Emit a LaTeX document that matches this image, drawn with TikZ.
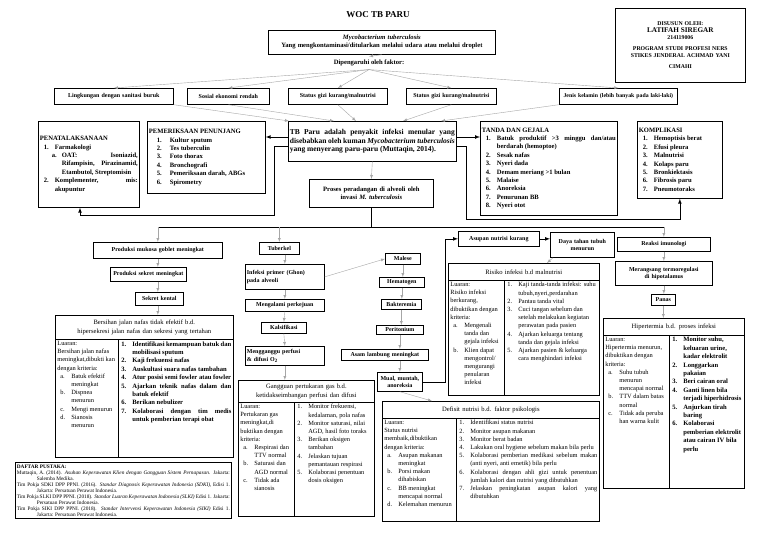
\documentclass[tikz,border=0pt]{standalone}
\usepackage{fontspec}
\setmainfont{Liberation Serif}
\usetikzlibrary{arrows}
\setlength{\parindent}{0pt}
\hyphenpenalty=10000
\exhyphenpenalty=10000
\tolerance=10000
\newcommand{\itemline}[4]{\par\hangindent=\dimexpr#1+#2\relax\hangafter=1\hspace*{#1}\makebox[#2][l]{#3}#4\par}
\newcommand{\nitem}[2]{\itemline{4pt}{11pt}{#1}{#2}}
\newcommand{\aitem}[2]{\itemline{3pt}{11pt}{#1}{#2}}
\newcommand{\titem}[2]{\itemline{1pt}{11pt}{#1}{#2}}
\newcommand{\refitem}[1]{\par\hangindent=20pt\hangafter=1 #1\par}
\newcommand{\tcell}[3]{\parbox[t][#2][t]{#1}{#3}}

\tikzset{
  box/.style={draw, line width=0.7pt, anchor=north west, inner sep=1.5pt,
    font=\fontsize{6.6}{8.2}\selectfont},
  flow/.style={box, align=center, font=\fontsize{6}{7.4}\selectfont\bfseries},
  info/.style={box, align=justify, font=\fontsize{6.6}{8.4}\selectfont\bfseries},
  tab/.style={box, inner sep=2pt, font=\fontsize{6.4}{8.2}\selectfont},
  link/.style={->, >=latex, line width=0.7pt},
  faint/.style={->, >=latex, draw=gray!70, line width=0.4pt},
}

\begin{document}
\begin{tikzpicture}[x=1pt, y=-1pt]
\useasboundingbox[fill=white] (0,0) rectangle (768,543);

% judul dan penyebab
\node[font=\fontsize{9}{10}\selectfont\bfseries] (judul) at (378,15) {WOC TB PARU};
\node[flow, text width=224pt, minimum height=24pt, font=\fontsize{6.6}{8}\selectfont\bfseries] (myco) at (268,30)
  {\textit{Mycobacterium tuberculosis}\\Yang mengkontaminasi/ditularkan melalui udara atau melalui droplet};
\node[font=\fontsize{6.6}{8}\selectfont\bfseries] (dipeng) at (369,63) {Dipengaruhi oleh faktor:};
\draw[faint] (myco.south) -- (dipeng.north);

% faktor
\node[flow, text width=116pt, minimum height=16pt] (f1) at (54,88) {Lingkungan dengan sanitasi buruk};
\node[flow, text width=79pt, minimum height=16pt] (f2) at (187,88) {Sosial ekonomi rendah};
\node[flow, text width=96pt, minimum height=16pt] (f3) at (288,88) {Status gizi kurang/malnutrisi};
\node[flow, text width=87pt, minimum height=16pt] (f4) at (406,88) {Status gizi kurang/malnutrisi};
\node[flow, text width=115pt, minimum height=16pt, font=\fontsize{5.8}{7}\selectfont\bfseries] (f5) at (559,88) {Jenis kelamin (lebih banyak pada laki-laki)};
\draw[faint] (dipeng.south) -- (f1.north);
\draw[faint] (dipeng.south) -- (f2.north);
\draw[faint] (dipeng.south) -- (f3.north);
\draw[faint] (dipeng.south) -- (f4.north);
\draw[faint] (dipeng.south) -- (f5.north);

% penyusun
\node[box, align=center, text width=127pt, minimum height=74pt, font=\fontsize{5.8}{7}\selectfont\bfseries] (susun) at (615,8)
  {DISUSUN OLEH:\\{\fontsize{7.2}{8}\selectfont LATIFAH SIREGAR}\\214119006\\[4pt]
   PROGRAM STUDI PROFESI NERS\\STIKES JENDERAL ACHMAD YANI\\[4pt]CIMAHI};

% definisi
\node[info, text width=165pt, minimum height=40pt, font=\fontsize{7.5}{8.4}\selectfont\bfseries] (tb) at (288,121)
  {TB Paru adalah penyakit infeksi menular yang disebabkan oleh kuman \textit{Mycobacterium tuberculosis} yang menyerang paru-paru (Muttaqin, 2014).};
\draw[faint] (f1.south east) -- ([xshift=1pt]tb.north west);
\draw[faint] (f2.south) -- ([xshift=46pt]tb.north west);
\draw[faint] (f3.south) -- ([xshift=68pt]tb.north west);
\draw[faint] (f4.south) -- ([xshift=115pt]tb.north west);
\draw[faint] (f5.south west) -- ([xshift=153pt]tb.north west);

\node[info, text width=98pt, minimum height=86pt] (pen) at (38,121)
  {PENATALAKSANAAN
   \nitem{1.}{Farmakologi}
   \itemline{12pt}{10pt}{a.}{OAT: Isoniazid, Rifampisin, Pirazinamid, Etambutol, Streptomisin}
   \nitem{2.}{Komplementer, mis: akupuntur}};
\node[info, text width=115pt, minimum height=72pt] (pem) at (147,121)
  {PEMERIKSAAN PENUNJANG
   \itemline{8pt}{13pt}{1.}{Kultur sputum}
   \itemline{8pt}{13pt}{2.}{Tes tuberculin}
   \itemline{8pt}{13pt}{3.}{Foto thorax}
   \itemline{8pt}{13pt}{4.}{Bronchografi}
   \itemline{8pt}{13pt}{5.}{Pemeriksaan darah, ABGs}
   \itemline{8pt}{13pt}{6.}{Spirometry}};
\node[info, text width=134pt, minimum height=94pt] (tanda) at (480,121)
  {TANDA DAN GEJALA
   \nitem{1.}{Batuk produktif >3 minggu dan/atau berdarah (hemoptoe)}
   \nitem{2.}{Sesak nafas}
   \nitem{3.}{Nyeri dada}
   \nitem{4.}{Demam meriang >1 bulan}
   \nitem{5.}{Malaise}
   \nitem{6.}{Anoreksia}
   \nitem{7.}{Penurunan BB}
   \nitem{8.}{Nyeri otot}};
\node[info, text width=82pt, minimum height=77pt] (komp) at (637,121)
  {KOMPLIKASI
   \nitem{1.}{Hemoptisis berat}
   \nitem{2.}{Efusi pleura}
   \nitem{3.}{Malnutrisi}
   \nitem{4.}{Kolaps paru}
   \nitem{5.}{Bronkiektasis}
   \nitem{6.}{Fibrosis paru}
   \nitem{7.}{Pneumotoraks}};

\coordinate (kiri) at (274,215);
\coordinate (kanan) at (466,219);
\draw[link] ([yshift=-16pt]tb.north west) -- ([yshift=-16pt]pem.north east);
\draw[link] ([yshift=-25pt]tb.north west) -| (kiri) -| ([xshift=42pt]pen.south west);
\draw[link] ([yshift=-16pt]tb.north east) -- ([yshift=-16pt]tanda.north west);
\draw[link] ([yshift=-25pt]tb.north east) -| (kanan) -| (komp.south);

\node[flow, text width=121pt, minimum height=28pt, font=\fontsize{6.6}{8.4}\selectfont\bfseries] (proses) at (309,179)
  {Proses peradangan di alveoli oleh\\invasi \textit{M. tuberculosis}};
\draw[faint] (tb.south) -- (proses.north);

% cabang utama
\coordinate (cabang) at (366,227);
\node[flow, text width=126pt, minimum height=16pt] (prodmuk) at (93,242) {Produksi mukosa goblet meningkat};
\node[flow, text width=37pt, minimum height=12pt] (tuberkel) at (259,242) {Tuberkel};
\node[flow, text width=90pt, minimum height=14pt] (reaksi) at (617,237) {Reaksi imunologi};
\draw[line width=0.7pt] (proses.south) -- (proses.south |- cabang);
\draw[line width=0.7pt] (prodmuk.north |- cabang) -- (reaksi.north |- cabang);
\draw[faint] (prodmuk.north |- cabang) -- (prodmuk.north);
\draw[faint] (tuberkel.north |- cabang) -- (tuberkel.north);
\draw[faint] (reaksi.north |- cabang) -- (reaksi.north);

% jalur bersihan jalan nafas
\node[flow, text width=73pt, minimum height=14pt] (prodsek) at (110,267) {Produksi sekret meningkat};
\node[flow, text width=45pt, minimum height=13pt] (sekret) at (135,292) {Sekret kental};
\node[box, align=center, text width=175pt, minimum height=24pt] (bersihan) at (55,315)
  {Bersihan jalan nafas tidak efektif b.d. hipersekresi jalan nafas dan sekresi yang tertahan};
\node[tab] (bersL) at (55,339) {\tcell{59pt}{114pt}{\raggedright Luaran:\\Bersihan jalan nafas meningkat,dibukti kan dengan kriteria:
   \aitem{a.}{Batuk efektif meningkat}\aitem{b.}{Dispnea menurun}\aitem{c.}{Mengi menurun}\aitem{d.}{Sianosis menurun}}};
\node[tab, font=\fontsize{6.6}{8.4}\selectfont\bfseries] (bersI) at (118,339) {\tcell{111pt}{114pt}{%
   \titem{1.}{Identifikasi kemampuan batuk dan mobilisasi sputum}\titem{2.}{Kaji frekuensi nafas}
   \titem{3.}{Auskultasi suara nafas tambahan}\titem{4.}{Atur posisi semi fowler atau fowler}
   \titem{5.}{Ajarkan teknik nafas dalam dan batuk efektif}\titem{6.}{Berikan nebulizer}
   \titem{7.}{Kolaborasi dengan tim medis untuk pemberian terapi obat}}};
\draw[faint] (prodmuk.south) -- (prodmuk.south |- prodsek.north);
\draw[faint] (prodmuk.south |- prodsek.south) -- (prodmuk.south |- sekret.north);
\draw[faint] (prodmuk.south |- sekret.south) -- (prodmuk.south |- bersihan.north);

% jalur pertukaran gas
\node[flow, align=left, text width=76pt, minimum height=25pt] (infeksi) at (245,264) {Infeksi primer (Ghon)\\pada alveoli};
\node[flow, text width=76pt, minimum height=12pt] (perkejuan) at (245,299) {Mengalami perkejuan};
\node[flow, text width=42pt, minimum height=11pt] (kalsi) at (261,322) {Kalsifikasi};
\node[flow, align=left, text width=76pt, minimum height=19pt] (perfusi) at (245,346) {Mengganggu perfusi\\\& difusi O\textsubscript{2}};
\node[box, align=center, text width=133pt, minimum height=22pt] (gas) at (238,380)
  {Gangguan pertukaran gas b.d.\\ketidakseimbangan perfusi dan difusi};
\node[tab] (gasL) at (238,402) {\tcell{52pt}{110pt}{\raggedright Luaran:\\Pertukaran gas meningkat,di buktikan dengan kriteria:
   \aitem{a.}{Respirasi dan TTV normal}\aitem{b.}{Saturasi dan AGD normal}\aitem{c.}{Tidak ada sianosis}}};
\node[tab] (gasI) at (294,402) {\tcell{76pt}{110pt}{\raggedright
   \titem{1.}{Monitor frekuensi, kedalaman, pola nafas}\titem{2.}{Monitor saturasi, nilai AGD, hasil foto toraks}
   \titem{3.}{Berikan oksigen tambahan}\titem{4.}{Jelaskan tujuan pemantauan respirasi}
   \titem{5.}{Kolaborasi penentuan dosis oksigen}}};
\draw[faint] (infeksi.north |- tuberkel.south) -- (infeksi.north);
\draw[faint] (infeksi.south) -- (perkejuan.north);
\draw[faint] (perkejuan.south) -- (kalsi.north);
\draw[faint] (kalsi.south) -- (perfusi.north);
\draw[faint] (perfusi.south) -- (perfusi.south |- gas.north);

% jalur nutrisi
\node[flow, text width=32pt, minimum height=11pt] (malese) at (385,253) {Malese};
\node[flow, text width=42pt, minimum height=10pt] (hemato) at (379,277) {Hematogen};
\node[flow, text width=37pt, minimum height=10pt] (bakter) at (381,299) {Bakteremia};
\node[flow, text width=44pt, minimum height=9pt] (perit) at (376,325) {Peritonium};
\node[flow, text width=84pt, minimum height=11pt] (asam) at (341,349) {Asam lambung meningkat};
\node[flow, text width=42pt, minimum height=19pt] (mual) at (377,372) {Mual, muntah,\\anoreksia};
\draw[faint] (infeksi.east) -- (malese.west);
\draw[faint] (malese.south) -- (malese.south |- hemato.north);
\draw[faint] (hemato.south) -- (hemato.south |- bakter.north);
\draw[faint] (bakter.south) -- (bakter.south |- perit.north);
\draw[faint] (perit.south) -- (perit.south |- asam.north);
\draw[faint] (perit.south |- asam.south) -- (perit.south |- mual.north);

\node[flow, text width=78pt, minimum height=15pt] (asupan) at (458,231) {Asupan nutrisi kurang};
\node[flow, text width=61pt, minimum height=25pt] (daya) at (550,232) {Daya tahan tubuh\\menurun};
\draw[link] (mual.east) -- ++(23,0) |- (asupan.west);
\draw[link] (asupan.east) -- (asupan.east -| daya.west);

\node[box, align=center, text width=148pt, minimum height=17pt] (risiko) at (448,263) {Risiko infeksi b.d malnutrisi};
\node[tab] (risL) at (448,280) {\tcell{52pt}{111pt}{\raggedright Luaran:\\Risiko infeksi berkurang, dibuktikan dengan kriteria:
   \aitem{a.}{Mengenali tanda dan gejala infeksi}\aitem{b.}{Klien dapat mengontrol/ mengurangi penularan infeksi}}};
\node[tab] (risI) at (504,280) {\tcell{91pt}{111pt}{\raggedright
   \titem{1.}{Kaji tanda-tanda infeksi: suhu tubuh,nyeri,perdarahan}\titem{2.}{Pantau tanda vital}
   \titem{3.}{Cuci tangan sebelum dan setelah melakukan kegiatan perawatan pada pasien}
   \titem{4.}{Ajarkan keluarga tentang tanda dan gejala infeksi}
   \titem{5.}{Ajarkan pasien \& keluarga cara menghindari infeksi}}};
\draw[faint] ([xshift=3pt]daya.south west) -- ([xshift=99pt]risiko.north west);

\node[box, align=center, text width=214pt, minimum height=17pt] (defisit) at (382,401) {Defisit nutrisi b.d. faktor psikologis};
\node[tab] (defL) at (382,418) {\tcell{70pt}{99pt}{\raggedright Luaran:\\Status nutrisi membaik,dibuktikan dengan kriteria:
   \aitem{a.}{Asupan makanan meningkat}\aitem{b.}{Porsi makan dihabiskan}\aitem{c.}{BB meningkat mencapai normal}\aitem{d.}{Kelemahan menurun}}};
\node[tab] (defI) at (456,418) {\tcell{139pt}{99pt}{%
   \titem{1.}{Identifikasi status nutrisi}\titem{2.}{Monitor asupan makanan}\titem{3.}{Monitor berat badan}
   \titem{4.}{Lakukan oral hygiene sebelum makan bila perlu}
   \titem{5.}{Kolaborasi pemberian medikasi sebelum makan (anti nyeri, anti emetik) bila perlu}
   \titem{6.}{Kolaborasi dengan ahli gizi untuk penentuan jumlah kalori dan nutrisi yang dibutuhkan}
   \titem{7.}{Jelaskan peningkatan asupan kalori yang dibutuhkan}}};
\draw[faint] (mual.south) -- ([xshift=50pt]defisit.north west);

% jalur hipertermia
\node[flow, text width=94pt, minimum height=24pt] (merang) at (615,261) {Merangsang termoregulasi\\di hipotalamus};
\node[flow, text width=21pt, minimum height=11pt] (panas) at (651,294) {Panas};
\node[box, align=center, text width=138pt, minimum height=17pt] (hiper) at (603,318) {Hipertermia b.d. proses infeksi};
\node[tab] (hipL) at (603,335) {\tcell{62pt}{149pt}{\raggedright Luaran:\\Hipertermia menurun, dibuktikan dengan kriteria:
   \aitem{a.}{Suhu tubuh menurun mencapai normal}\aitem{b.}{TTV dalam batas normal}\aitem{c.}{Tidak ada peruba han warna kulit}}};
\node[tab, font=\fontsize{6.6}{8.4}\selectfont\bfseries] (hipI) at (669,335) {\tcell{71pt}{149pt}{\raggedright
   \titem{1.}{Monitor suhu, keluaran urine, kadar elektrolit}\titem{2.}{Longgarkan pakaian}
   \titem{3.}{Beri cairan oral}\titem{4.}{Ganti linen bila terjadi hiperhidrosis}
   \titem{5.}{Anjurkan tirah baring}\titem{6.}{Kolaborasi pemberian elektrolit atau cairan IV bila perlu}}};
\draw[faint] (reaksi.south) -- (reaksi.south |- merang.north);
\draw[faint] (merang.south) -- (merang.south |- panas.north);
\draw[faint] (panas.south) -- (panas.south |- hiper.north);

% daftar pustaka
\node[box, align=justify, text width=213pt, minimum height=56pt, font=\fontsize{5.3}{6}\selectfont] (pustaka) at (15,462)
  {{\bfseries DAFTAR PUSTAKA:}
   \refitem{Muttaqin, A. (2014). \textit{Asuhan Keperawatan Klien dengan Gangguan Sistem Pernapasan}. Jakarta: Salemba Medika.}
   \refitem{Tim Pokja SDKI DPP PPNI. (2016). \textit{Standar Diagnosis Keperawatan Indonesia (SDKI)}, Edisi 1. Jakarta: Persatuan Perawat Indonesia.}
   \refitem{Tim Pokja SLKI DPP PPNI. (2018). \textit{Standar Luaran Keperawatan Indonesia (SLKI)} Edisi 1. Jakarta: Persatuan Perawat Indonesia.}
   \refitem{Tim Pokja SIKI DPP PPNI. (2018). \textit{Standar Intervensi Keperawatan Indonesia (SIKI)} Edisi 1. Jakarta: Persatuan Perawat Indonesia.}};
\end{tikzpicture}
\end{document}
